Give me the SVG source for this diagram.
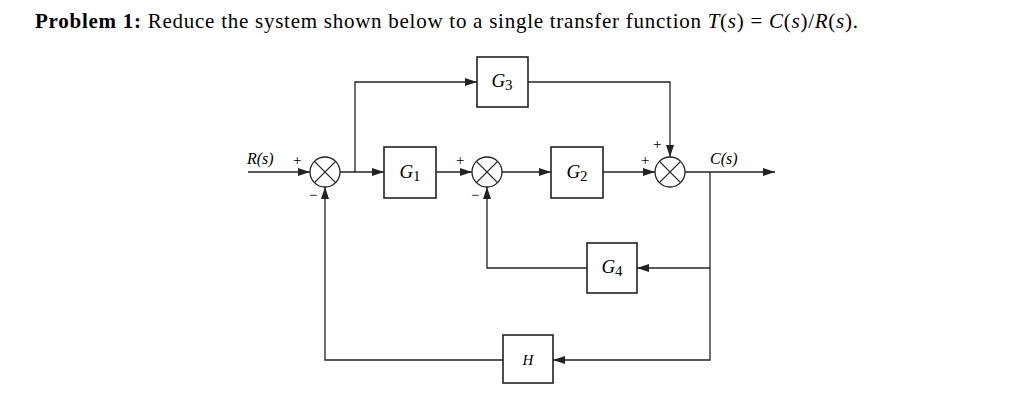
<svg xmlns="http://www.w3.org/2000/svg" width="1024" height="412" viewBox="0 0 1024 412">
<style>
.t{font-family:"Liberation Serif",serif;fill:#000}
.b{fill:#fff;stroke:#222;stroke-width:1.6}
.c{fill:none;stroke:#222;stroke-width:1.3}
.s{fill:#fff;stroke:#222;stroke-width:1.3}
.sub{font-size:15px}
</style>
<defs><marker id="a" markerWidth="12" markerHeight="8" refX="12" refY="4" orient="auto" markerUnits="userSpaceOnUse"><path d="M0,0L12,4L0,8z" fill="#222"/></marker></defs>
<rect width="1024" height="412" fill="#fff"/>
<text class="t" x="35" y="28" font-size="21" textLength="823" lengthAdjust="spacing"><tspan font-weight="bold">Problem 1:</tspan> Reduce the system shown below to a single transfer function <tspan font-style="italic">T</tspan>(<tspan font-style="italic">s</tspan>) = <tspan font-style="italic">C</tspan>(<tspan font-style="italic">s</tspan>)/<tspan font-style="italic">R</tspan>(<tspan font-style="italic">s</tspan>).</text>
<g id="connectors" class="c">
<path d="M248,172H310" marker-end="url(#a)"/>
<path d="M340,172H384" marker-end="url(#a)"/>
<path d="M355,172V82H477" marker-end="url(#a)"/>
<path d="M436,172H472" marker-end="url(#a)"/>
<path d="M502,172H551" marker-end="url(#a)"/>
<path d="M603,172H655" marker-end="url(#a)"/>
<path d="M528,82H670V157" marker-end="url(#a)"/>
<path d="M685,172H775" marker-end="url(#a)"/>
<path d="M710,172V360H553" marker-end="url(#a)"/>
<path d="M710,268H637" marker-end="url(#a)"/>
<path d="M587,268H487V187" marker-end="url(#a)"/>
<path d="M503,360H325V187" marker-end="url(#a)"/>
</g>
<g id="sum1"><circle class="s" cx="325" cy="172" r="15"/><path class="c" d="M314.4,161.4L335.6,182.6M335.6,161.4L314.4,182.6"/></g>
<g id="sum2"><circle class="s" cx="487" cy="172" r="15"/><path class="c" d="M476.4,161.4L497.6,182.6M497.6,161.4L476.4,182.6"/></g>
<g id="sum3"><circle class="s" cx="670" cy="172" r="15"/><path class="c" d="M659.4,161.4L680.6,182.6M680.6,161.4L659.4,182.6"/></g>
<g id="G1"><rect class="b" x="384" y="147" width="52" height="51"/><text class="t" x="410" y="178" font-size="19" text-anchor="middle"><tspan font-style="italic">G</tspan><tspan class="sub" dy="3">1</tspan></text></g>
<g id="G2"><rect class="b" x="551" y="147" width="52" height="51"/><text class="t" x="577" y="178" font-size="19" text-anchor="middle"><tspan font-style="italic">G</tspan><tspan class="sub" dy="3">2</tspan></text></g>
<g id="G3"><rect class="b" x="477" y="57" width="51" height="50"/><text class="t" x="502" y="87" font-size="19" text-anchor="middle"><tspan font-style="italic">G</tspan><tspan class="sub" dy="3">3</tspan></text></g>
<g id="G4"><rect class="b" x="587" y="243" width="50" height="50"/><text class="t" x="612" y="273" font-size="19" text-anchor="middle"><tspan font-style="italic">G</tspan><tspan class="sub" dy="3">4</tspan></text></g>
<g id="H"><rect class="b" x="503" y="335" width="50" height="48"/><text class="t" x="528" y="365" font-size="15" font-style="italic" text-anchor="middle">H</text></g>
<g id="labels" class="t" font-size="15">
<text x="247" y="164" font-style="italic" font-size="16">R(s)</text>
<text x="293" y="165">+</text><text x="309" y="200">−</text>
<text x="456" y="165">+</text><text x="471" y="200">−</text>
<text x="641" y="165">+</text><text x="653" y="149">+</text>
<text x="710" y="164" font-style="italic" font-size="16">C(s)</text>
</g>
</svg>
